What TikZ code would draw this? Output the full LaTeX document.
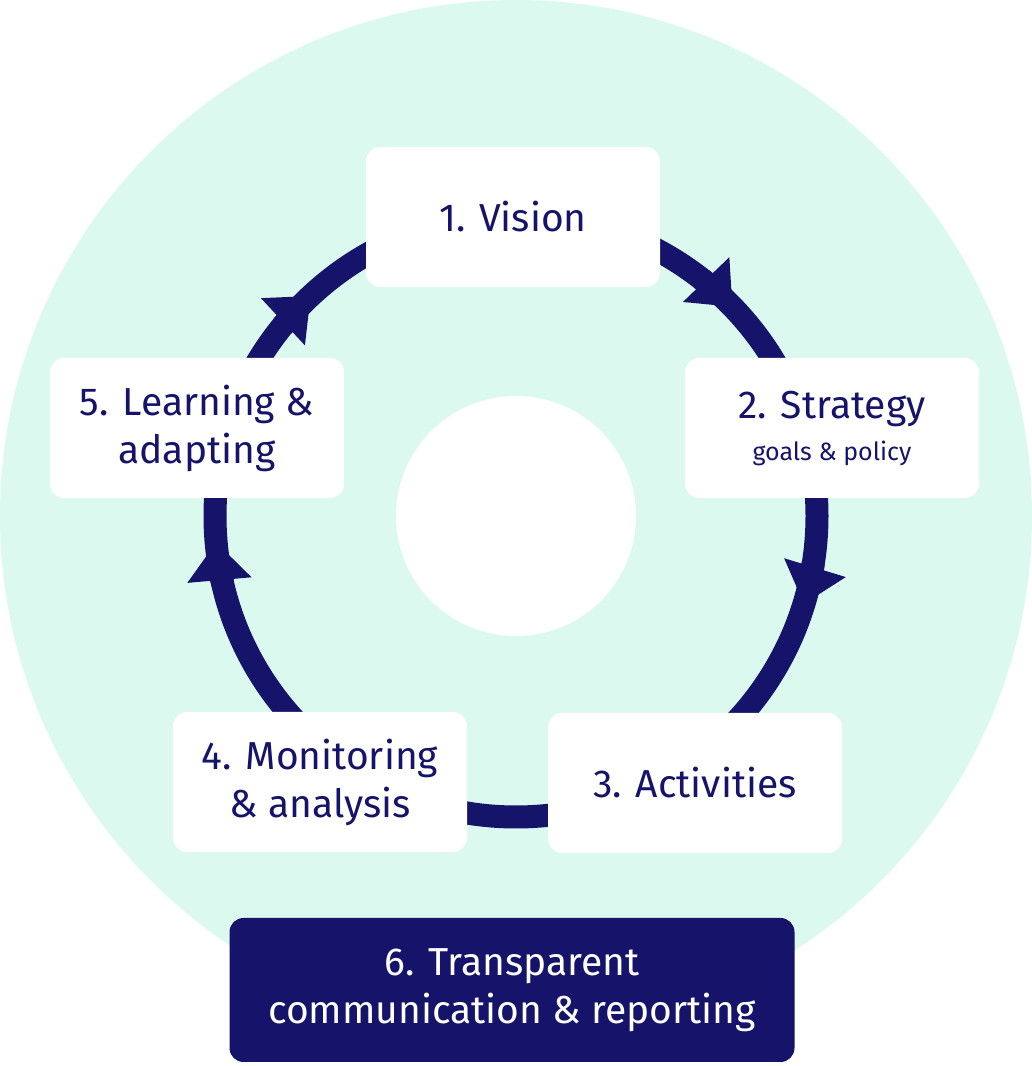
\documentclass[tikz,border=0pt]{standalone}
\usepackage{fontspec}
\setmainfont{Fira Sans}
\usetikzlibrary{arrows.meta}
\definecolor{navy}{HTML}{15146A}
\definecolor{mint}{HTML}{DBF9EF}
\tikzset{
  stagebox/.style={fill=white, rounded corners=14pt, minimum width=294pt, minimum height=140pt,
    align=center, text=navy, font=\fontsize{39}{48}\selectfont},
  ring/.style={navy, line width=23pt},
  flow/.style={ring, -{Triangle[length=38pt, width=62pt]}}
}
\begin{document}
\begin{tikzpicture}[x=1pt, y=1pt]
  \useasboundingbox (0,0) rectangle (1032,1066);
  % background discs
  \fill[mint] (516,550) circle (516);
  \fill[white] (516,550) circle (120);
  % the cycle
  \coordinate (c) at (516,550);
  \draw[ring] (c) circle (301);
  \foreach \a in {52,-9,193,141}
    \draw[flow] (c) ++(\a:301) arc (\a:\a-8:301);
  % stages
  \node (vision) [stagebox] at (513,849) {1. Vision};
  \node (strategy) [stagebox] at (832,638) {2. Strategy\\[-6pt]{\fontsize{25}{29}\selectfont goals \& policy}};
  \node (activities) [stagebox] at (695,283) {3. Activities};
  \node (monitoring) [stagebox] at (320,284) {4. Monitoring\\\& analysis};
  \node (learning) [stagebox] at (197,638) {5. Learning \&\\adapting};
  \node (reporting) [stagebox, fill=navy, text=white, minimum width=565pt, minimum height=144pt] at (512,76)
    {6. Transparent\\communication \& reporting};
\end{tikzpicture}
\end{document}
